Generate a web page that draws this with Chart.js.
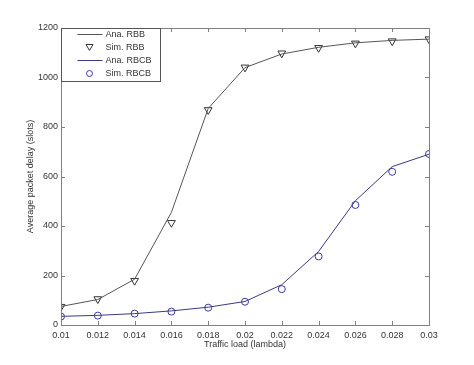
<!DOCTYPE html>
<html>
<head>
<meta charset="utf-8">
<script src="https://cdn.jsdelivr.net/npm/chart.js@4/dist/chart.umd.min.js"></script>
<style>
  html, body { margin: 0; padding: 0; background: #fff; }
  #wrap { width: 474px; height: 365px; }
</style>
</head>
<body>
<div id="wrap"><canvas id="c" width="474" height="365"></canvas></div>
<script>
// traffic load values (x)
var loads = [0.01, 0.012, 0.014, 0.016, 0.018, 0.02, 0.022, 0.024, 0.026, 0.028, 0.03];
// average packet delay (slots)
var anaRBB  = [75, 103, 185, 455, 875, 1040, 1095, 1122, 1140, 1150, 1155];
var simRBB  = [74, 105, 179, 413, 869, 1041, 1098, 1120, 1138, 1147, 1155];
var anaRBCB = [35, 39, 46, 57, 72, 95, 163, 297, 502, 640, 690];
var simRBCB = [34, 38, 46, 54, 70, 94, 145, 277, 485, 619, 691];

var seriesNames = ['Ana. RBB', 'Sim. RBB', 'Ana. RBCB', 'Sim. RBCB'];

function pts(vals) {
    return vals.map(function (v, i) { return { x: loads[i], y: v }; });
}

var FONT = '"Liberation Sans", Arial, sans-serif';
var TXT = '#333';
var AXIS = '#808080';

// matlab style box with inward ticks + legend box
var boxPlugin = {
    id: 'box',
    afterDraw: function (chart) {
        var ctx = chart.ctx, a = chart.chartArea;
        var xs = chart.scales.x, ys = chart.scales.y;
        ctx.save();
        ctx.strokeStyle = AXIS;
        ctx.lineWidth = 1;
        ctx.strokeRect(Math.round(a.left) + 0.5, Math.round(a.top) + 0.5,
            Math.round(a.right - a.left), Math.round(a.bottom - a.top));
        ctx.beginPath();
        xs.ticks.forEach(function (t) {
            var px = Math.round(xs.getPixelForValue(t.value)) + 0.5;
            ctx.moveTo(px, a.bottom); ctx.lineTo(px, a.bottom - 4);
            ctx.moveTo(px, a.top); ctx.lineTo(px, a.top + 4);
        });
        ys.ticks.forEach(function (t) {
            var py = Math.round(ys.getPixelForValue(t.value)) + 0.5;
            ctx.moveTo(a.left, py); ctx.lineTo(a.left + 4, py);
            ctx.moveTo(a.right, py); ctx.lineTo(a.right - 4, py);
        });
        ctx.stroke();

        // legend
        var lx = Math.round(a.left) + 0.5, ly = Math.round(a.top) + 0.5;
        ctx.fillStyle = '#fff';
        ctx.fillRect(lx, ly, 99, 53);
        ctx.strokeStyle = '#555';
        ctx.strokeRect(lx, ly, 99, 53);
        var rows = [6, 19, 32, 45];
        ctx.font = '9px ' + FONT;
        ctx.textBaseline = 'middle';
        chart.data.datasets.forEach(function (ds, i) {
            var cy = ly + rows[i];
            if (ds.showLine !== false) {
                ctx.strokeStyle = ds.borderColor;
                ctx.beginPath();
                ctx.moveTo(lx + 16, cy); ctx.lineTo(lx + 41, cy);
                ctx.stroke();
            } else {
                ctx.strokeStyle = ds.pointBorderColor;
                ctx.beginPath();
                if (ds.pointStyle === 'triangle') {
                    ctx.moveTo(lx + 24.5, cy - 3); ctx.lineTo(lx + 31.5, cy - 3);
                    ctx.lineTo(lx + 28, cy + 3); ctx.closePath();
                } else {
                    ctx.arc(lx + 28, cy, 3, 0, Math.PI * 2);
                }
                ctx.stroke();
            }
            ctx.fillStyle = TXT;
            ctx.fillText(seriesNames[i], lx + 44, cy);
        });
        ctx.restore();
    }
};

new Chart(document.getElementById('c'), {
    type: 'line',
    data: {
        datasets: [
            { data: pts(anaRBB), borderColor: '#555', borderWidth: 1, pointRadius: 0, tension: 0 },
            { data: pts(simRBB), showLine: false, pointStyle: 'triangle', rotation: 180,
              pointRadius: 4.5, pointBorderColor: '#333', pointBackgroundColor: 'rgba(0,0,0,0)', pointBorderWidth: 1 },
            { data: pts(anaRBCB), borderColor: '#3a3a80', borderWidth: 1, pointRadius: 0, tension: 0 },
            { data: pts(simRBCB), showLine: false, pointStyle: 'circle',
              pointRadius: 3.5, pointBorderColor: '#3a3a9a', pointBackgroundColor: 'rgba(0,0,0,0)', pointBorderWidth: 1 }
        ]
    },
    options: {
        responsive: false,
        animation: false,
        layout: { padding: { left: 25, right: 45, top: 28, bottom: 0 } },
        plugins: { legend: { display: false }, tooltip: { enabled: false } },
        scales: {
            x: {
                type: 'linear', min: 0.01, max: 0.03,
                grid: { display: false, drawTicks: false, tickLength: 0 }, border: { display: false },
                afterFit: function (s) { s.height = 40; },
                afterBuildTicks: function (s) {
                    s.ticks = loads.map(function (v) { return { value: v }; });
                },
                ticks: {
                    autoSkip: false, maxRotation: 0, padding: 5, color: TXT,
                    font: { family: FONT, size: 9 },
                    callback: function (v) { return String(parseFloat(v.toFixed(3))); }
                },
                title: { display: true, text: 'Traffic load (lambda)', color: TXT,
                    font: { family: FONT, size: 9 }, padding: { top: 0, bottom: 15 } }
            },
            y: {
                min: 0, max: 1200,
                grid: { display: false, drawTicks: false, tickLength: 0 }, border: { display: false },
                afterFit: function (s) { s.width = 36; },
                ticks: { stepSize: 200, padding: 3, color: TXT, font: { family: FONT, size: 9 },
                    callback: function (v) { return String(v); } },
                title: { display: true, text: 'Average packet delay (slots)', color: TXT,
                    font: { family: FONT, size: 9 }, padding: { top: 0, bottom: 2 } }
            }
        }
    },
    plugins: [boxPlugin]
});
</script>
</body>
</html>
